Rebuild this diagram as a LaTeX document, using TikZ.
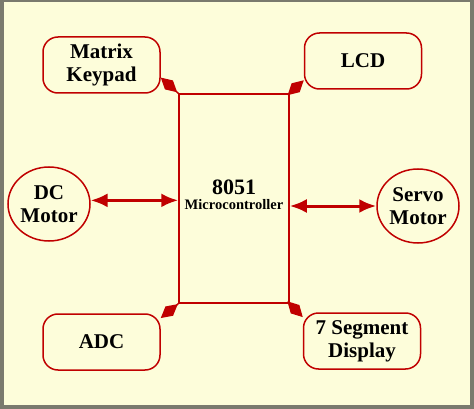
\documentclass[tikz,border=0pt]{standalone}
\usepackage{fontspec}
\setmainfont{Liberation Serif}
\usetikzlibrary{arrows.meta,shapes.geometric}

\definecolor{framegray}{HTML}{7A7A6E}
\definecolor{paper}{HTML}{FDFDDA}
\definecolor{darkred}{HTML}{C00000}

\begin{document}
\begin{tikzpicture}[x=1pt,y=-1pt,
        box/.style={draw=darkred, line width=1.5pt, rounded corners=15pt, minimum width=117pt,
            minimum height=56pt, align=center, font=\fontsize{21}{23}\selectfont\bfseries},
        motor/.style={draw=darkred, line width=1.5pt, ellipse, minimum width=82pt,
            minimum height=74pt, inner sep=0pt, align=center, font=\fontsize{21}{23}\selectfont\bfseries},
        biarrow/.style={draw=darkred, line width=3pt,
            {Latex[length=17pt,width=14pt]}-{Latex[length=17pt,width=14pt]}},
        link/.style={draw=darkred, line width=1.5pt, -{Diamond[length=22pt,width=12pt]}}]
    \useasboundingbox (0,0) rectangle (474,409);
    \fill[framegray] (0,0) rectangle (474,409);
    \fill[paper] (4,2) rectangle (470,405);

    % microcontroller
    \node (mcu) [draw=darkred, line width=1.5pt, minimum width=110pt, minimum height=209pt] at (234,198.5) {};
    \node (mcutext) [align=center, font=\bfseries] at ([yshift=4pt]mcu.center)
        {{\fontsize{22}{24}\selectfont 8051}\\[3pt]{\fontsize{14.5}{16}\selectfont Microcontroller}};

    % peripherals
    \node (keypad) [box] at (101.5,65) {Matrix\\Keypad};
    \node (lcd) [box] at (363,61) {LCD};
    \node (adc) [box] at (101.5,342) {ADC};
    \node (seg) [box] at (362,341) {7 Segment\\Display};
    \node (dc) [motor] at (49,204) {DC\\Motor};
    \node (servo) [motor] at (418,206) {Servo\\Motor};

    \draw[biarrow] (dc.5) -- (dc.5 -| mcu.west);
    \draw[biarrow] (servo.west) -- (servo.west -| mcu.east);

    \draw[link] (mcu.north west) -- (keypad.-12);
    \draw[link] (mcu.north east) -- (lcd.198);
    \draw[link] (mcu.south west) -- (adc.22);
    \draw[link] (mcu.south east) -- (seg.158);
\end{tikzpicture}
\end{document}
